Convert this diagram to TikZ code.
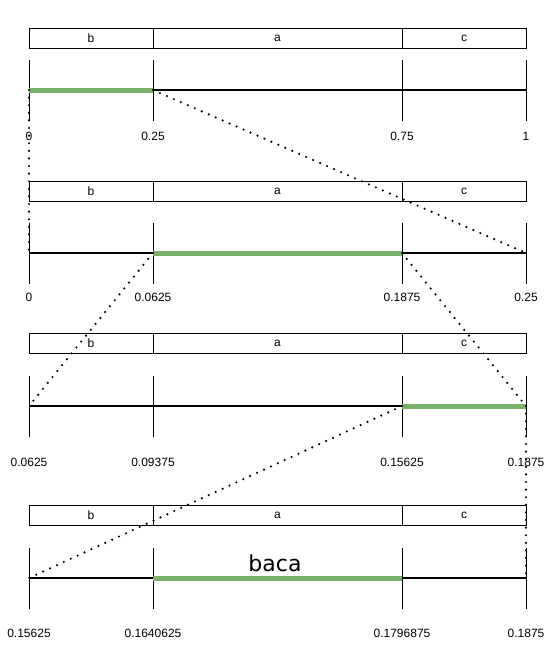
\documentclass[tikz,border=0pt]{standalone}
\usepackage{fontspec}
\setmainfont{Liberation Sans}
\newfontfamily\wordfont{DejaVu Sans}
\usetikzlibrary{calc}

\definecolor{selgreen}{RGB}{120,178,106}

\tikzset{
  seg/.style={draw, line width=0.8pt, minimum height=20pt, inner sep=0pt,
    font=\fontsize{12}{14}\selectfont},
  tickline/.style={line width=0.8pt},
  axisline/.style={line width=1.8pt},
  chosen/.style={line width=5pt, draw=selgreen},
  zoomline/.style={line width=2.4pt, dash pattern=on 0pt off 7.6pt, line cap=round},
  lab/.style={font=\fontsize{12}{14}\selectfont},
}

\begin{document}
\begin{tikzpicture}[x=1pt,y=-1pt]
        \useasboundingbox (0,0) rectangle (555,654);

        % One row per step: box top, line, label height and the four tick labels
        \foreach \r/\bt/\ly/\lt/\la/\lb/\lc/\ld in {
            1/28/90/136/0/0.25/0.75/1,
            2/181/253/297/0/0.0625/0.1875/0.25,
            3/333/406/462/0.0625/0.09375/0.15625/0.1875,
            4/505/578/633/0.15625/0.1640625/0.1796875/0.1875}{
          % Boxes with the symbols
          \node[seg, minimum width=124pt] (b\r) at (91,\bt+10) {b};
          \node[seg, minimum width=249pt] (a\r) at (277.5,\bt+10) {a};
          \node[seg, minimum width=124pt] (c\r) at (464,\bt+10) {c};

          % Tick points on the line
          \coordinate (p\r-0) at (29,\ly);
          \coordinate (p\r-1) at (153,\ly);
          \coordinate (p\r-2) at (402,\ly);
          \coordinate (p\r-3) at (526,\ly);

          % The line and the ticks
          \draw[axisline] (p\r-0) -- (p\r-3);
          \foreach \k in {0,...,3}
            \draw[tickline] ($(p\r-\k)+(0,-30)$) -- ($(p\r-\k)+(0,31)$);

          % Tick labels
          \node[lab] (t\r-0) at (29,\lt) {\la};
          \node[lab] (t\r-1) at (153,\lt) {\lb};
          \node[lab] (t\r-2) at (402,\lt) {\lc};
          \node[lab] (t\r-3) at (526,\lt) {\ld};
        }

        % Chosen intervals
        \draw[chosen] (p1-0) -- (p1-1);
        \draw[chosen] (p2-1) -- (p2-2);
        \draw[chosen] (p3-2) -- (p3-3);
        \draw[chosen] (p4-1) -- (p4-2);

        % Zoom lines from one row to the next
        \draw[zoomline] (p1-0) -- (p2-0);
        \draw[zoomline] (p1-1) -- (p2-3);
        \draw[zoomline] (p2-1) -- (p3-0);
        \draw[zoomline] (p2-2) -- (p3-3);
        \draw[zoomline] (p3-2) -- (p4-0);
        \draw[zoomline] (p3-3) -- (p4-3);

        % The coded word
        \node[font=\wordfont\fontsize{22}{26}\selectfont, anchor=base] (word) at (275,571) {baca};
\end{tikzpicture}
\end{document}
